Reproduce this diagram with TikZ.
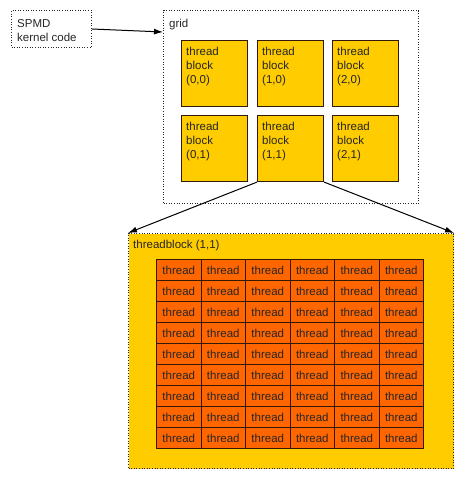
\documentclass[tikz,border=0pt]{standalone}
\usepackage{fontspec}
\setmainfont{Liberation Sans}
\usepackage{xcolor}
\usepackage{tikz}
\usetikzlibrary{arrows.meta}
\definecolor{blockfill}{RGB}{255,204,0}
\definecolor{threadfill}{RGB}{255,102,0}
\definecolor{edgedark}{RGB}{50,25,10}

\begin{document}
\begin{tikzpicture}[x=1pt, y=-1pt, font=\fontsize{11.5}{14}\selectfont,
        dotbox/.style={draw=black!85, line width=1pt, dash pattern=on 1pt off 1.6pt, anchor=north west, inner sep=0pt},
        blockbox/.style={draw=edgedark, fill=blockfill, line width=1.1pt, minimum width=66pt, minimum height=66pt, anchor=north west, inner sep=0pt},
        threadbox/.style={draw=edgedark, fill=threadfill, line width=1.1pt, minimum width=44.5pt, minimum height=21pt, anchor=north west, inner sep=0pt, text=black!85},
        boxlabel/.style={anchor=north west, align=left, inner sep=0pt, text=black!85},
        link/.style={-{Latex[length=9pt,width=6pt]}, line width=1pt}]
        \useasboundingbox (0,0) rectangle (474,479);
        % kernel code and grid
        \node[dotbox, minimum width=80pt, minimum height=37pt] (spmd) at (11,10) {};
        \node[boxlabel] (spmdtext) at (17,19) {SPMD\\kernel code};
        \node[dotbox, minimum width=255pt, minimum height=193pt] (grid) at (163,10) {};
        \node[boxlabel] (gridtext) at (169,19) {grid};
        \coordinate (gridin) at (163,32);
        \draw[link] (spmd.east) -- (gridin);
        % thread blocks
        \foreach \i/\x in {0/181,1/257,2/332}
            \foreach \j/\y in {0/40,1/115} {
                \node[blockbox] (b\i\j) at (\x,\y) {};
                \node[boxlabel] (b\i\j text) at ([shift={(5,7)}]b\i\j.north west) {thread\\block\\(\i,\j)};
            }
        % zoomed thread block
        \node[dotbox, fill=blockfill, minimum width=325pt, minimum height=235pt] (tb) at (128,233) {};
        \node[boxlabel] (tbtext) at (133,240) {threadblock (1,1)};
        \foreach \c in {0,...,5}
            \foreach \r in {0,...,8}
                \node[threadbox] (t\c\r) at ({156+44.5*\c},{259+21*\r}) {thread};
        \draw[link] (b11.south west) -- (tb.north west);
        \draw[link] (b11.south east) -- (tb.north east);
    \end{tikzpicture}
\end{document}
